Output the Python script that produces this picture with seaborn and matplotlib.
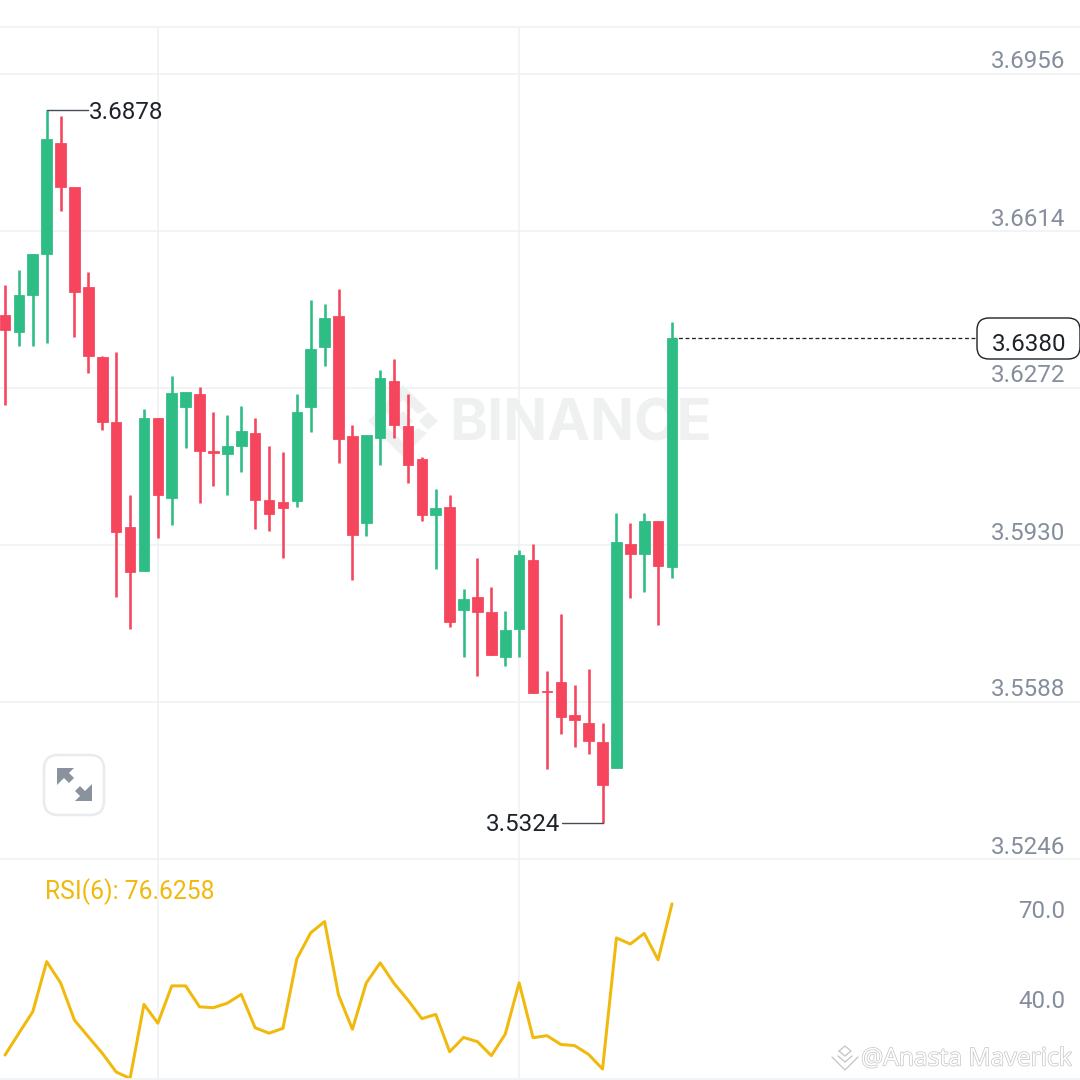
import matplotlib
matplotlib.use("Agg")
import matplotlib.pyplot as plt
import matplotlib.patheffects as pe
from matplotlib.patches import FancyBboxPatch, Polygon
import numpy as np
import seaborn as sns

opens = [3.6431,3.6393,3.6475,3.6564,3.6805,3.6709,3.6491,3.6340,3.6197,3.5970,
         3.5874,3.6207,3.6033,3.6231,3.6259,3.6135,3.6128,3.6146,3.6175,3.6027,
         3.6023,3.6026,3.6231,3.6361,3.6429,3.6167,3.5977,3.6162,3.6287,3.6189,
         3.6117,3.5995,3.6012,3.5788,3.5817,3.5783,3.5686,3.5747,3.5897,3.5613,
         3.5632,3.5560,3.5542,3.5500,3.5445,3.5932,3.5910,3.5982,3.5881]
highs = [3.6496,3.6529,3.6564,3.6878,3.6865,3.6709,3.6524,3.6342,3.6350,3.6040,
         3.6226,3.6207,3.6298,3.6263,3.6275,3.6219,3.6213,3.6233,3.6206,3.6146,
         3.6132,3.6258,3.6464,3.6455,3.6488,3.6191,3.6169,3.6311,3.6335,3.6258,
         3.6122,3.6052,3.6038,3.5835,3.5901,3.5839,3.5786,3.5919,3.5932,3.5655,
         3.5779,3.5625,3.5659,3.5542,3.6000,3.5977,3.6000,3.5982,3.6416]
lows = [3.6235,3.6364,3.6364,3.6371,3.6658,3.6384,3.6305,3.6181,3.5817,3.5746,
        3.5874,3.5946,3.5974,3.6141,3.6021,3.6059,3.6038,3.6090,3.5965,3.5960,
        3.5901,3.6012,3.6177,3.6320,3.6109,3.5854,3.5950,3.6104,3.6162,3.6064,
        3.5982,3.5878,3.5752,3.5685,3.5645,3.5690,3.5666,3.5685,3.5608,3.5443,
        3.5518,3.5491,3.5475,3.5324,3.5445,3.5815,3.5827,3.5756,3.5858]
closes = [3.6398,3.6475,3.6564,3.6814,3.6709,3.6482,3.6342,3.6197,3.5959,3.5872,
          3.6206,3.6040,3.6262,3.6263,3.6135,3.6130,3.6146,3.6178,3.6027,3.5998,
          3.6011,3.6220,3.6358,3.6425,3.6161,3.5951,3.6169,3.6294,3.6191,3.6105,
          3.5996,3.6011,3.5762,3.5812,3.5785,3.5690,3.5745,3.5908,3.5608,3.5609,
          3.5556,3.5549,3.5502,3.5407,3.5937,3.5910,3.5982,3.5885,3.6380]
rsi = [26.8,34.0,41.1,57.6,50.6,38.3,32.8,27.4,21.2,19.1,
       43.5,37.3,49.6,49.6,42.7,42.4,43.9,46.8,35.8,34.0,
       35.6,58.5,67.1,70.8,46.6,35.3,50.6,57.2,50.4,44.9,
       38.8,40.2,27.9,32.6,31.2,26.6,33.7,50.6,32.5,33.2,
       30.3,29.9,27.0,22.2,65.4,63.4,66.9,58.2,76.6258]
price_ticks = [3.6956,3.6614,3.6272,3.5930,3.5588,3.5246]
rsi_ticks = [70.0,40.0]
time_grid = [11,37]
high_label = 3.6878
low_label = 3.5324
last_price = 3.6380
rsi_title = "RSI(6): 76.6258"

RED, GREEN = "#F6465D", "#2EBD85"
GRID, GREY, DARK, GOLD = "#EEF0F3", "#848E9C", "#1E2329", "#F0B90B"
WM = "#EFF1F1"

sns.set_theme(style="white")
plt.rcParams["font.family"] = ["Roboto", "DejaVu Sans"]
fig = plt.figure(figsize=(10.8, 10.8), dpi=100, facecolor="white")
def fx(p): return p / 1080
def fy(p): return 1 - p / 1080
PX = 72 / 100
FS = 17.4

top, mid, bot = 27, 859, 1079
ax = fig.add_axes([0, fy(mid), 1, (mid - top) / 1080], zorder=2)
ax2 = fig.add_axes([0, fy(bot), 1, (bot - mid) / 1080], zorder=2)
step = 13.896
xlim = (-5 / step, (1080 - 5) / step)
k = (price_ticks[0] - price_ticks[-1]) / (859 - 74)
ax.set_xlim(xlim)
ax.set_ylim(price_ticks[-1], price_ticks[0] + (74 - top) * k)
ax2.set_xlim(xlim)
rk = 30 / (91 * 1.0)
ax2.set_ylim(70 - (bot - 924) * rk, 70 + (924 - mid) * rk)

for a in (ax, ax2):
    a.set_xticks(time_grid)
    a.tick_params(length=0, labelbottom=False, labelleft=False)
    a.grid(True, color=GRID, lw=1.5 * PX)
    a.set_axisbelow(True)
    a.patch.set_alpha(0)
    for s in ("left", "right"):
        a.spines[s].set_visible(False)
    for s in ("top", "bottom"):
        a.spines[s].set_color("#F1F2F4")
        a.spines[s].set_linewidth(1.8 * PX)
ax.set_yticks(price_ticks)
ax2.set_yticks([])
ax2.spines["top"].set_visible(False)

# watermark behind the candles
fig.text(fx(580.5), fy(426), "BINANCE", color=WM, family="Inter", weight="bold",
         fontsize=41.5, ha="center", va="center", zorder=0.5)
logo = [
    [(368,421),(377,412),(386,421),(377,430)],
    [(419,421),(428,412),(438,421),(428,430)],
    [(393,421),(403,411),(413,421),(403,431)],
    [(403,385),(427,409),(418,414),(403,400),(388,414),(379,409)],
    [(403,457),(427,433),(418,428),(403,442),(388,428),(379,433)],
]
for pts in logo:
    fig.add_artist(Polygon([(fx(a), fy(b)) for a, b in pts], closed=True, fc=WM, ec="none",
                           transform=fig.transFigure, zorder=0.5))

# candles
xs = np.arange(len(opens))
o, h, l, c = map(np.array, (opens, highs, lows, closes))
cols = [GREEN if cc >= oo else RED for oo, cc in zip(o, c)]
ax.vlines(xs, l, h, colors=cols, lw=2.6 * PX, zorder=3)
ax.bar(xs, np.abs(c - o), bottom=np.minimum(o, c), width=10.6 / step, color=cols,
       edgecolor=cols, lw=0.8 * PX, zorder=4)

# high / low / last markers
ihi = highs.index(high_label)
ilo = lows.index(low_label)
ax.plot([ihi, ihi + 41 / step], [high_label] * 2, color="#474D57", lw=1.4 * PX, zorder=5)
ax.plot([ilo - 41 / step, ilo], [low_label] * 2, color="#474D57", lw=1.4 * PX, zorder=5)
ax.annotate(f"{high_label:.4f}", (ihi + 42 / step, high_label), xytext=(0, -3 * PX), textcoords="offset points",
            color=DARK, fontsize=FS, ha="left", va="center", zorder=6)
ax.annotate(f"{low_label:.4f}", (ilo - 42 / step, low_label), xytext=(0, -1.5 * PX), textcoords="offset points",
            color=DARK, fontsize=FS, ha="right", va="center", zorder=6)
ax.plot([len(closes) - 1, (977 - 5) / step], [last_price] * 2, color=DARK, lw=1.3 * PX,
        ls=(0, (3, 2)), zorder=2)

# price labels
for t in price_ticks:
    ax.annotate(f"{t:.4f}", (1065.5 / 1080, t), xycoords=("axes fraction", "data"),
                xytext=(0, 12 * PX), textcoords="offset points", color=GREY, fontsize=FS,
                ha="right", va="center", zorder=6)

# last-price box
box = FancyBboxPatch((fx(985), fy(351)), fx(87), 25 / 1080,
                     boxstyle=f"round,pad={8/1080},rounding_size={12/1080}",
                     fc="white", ec=DARK, lw=1.4 * PX, transform=fig.transFigure, zorder=7)
fig.add_artist(box)
fig.text(fx(1029), fy(344.5), f"{last_price:.4f}", color=DARK, fontsize=FS, ha="center", va="center", zorder=8)

# expand button
btn = FancyBboxPatch((fx(54), fy(805)), fx(40), 40 / 1080,
                     boxstyle=f"round,pad={10/1080},rounding_size={14/1080}",
                     fc="white", ec="#E9ECEF", lw=2.6 * PX, transform=fig.transFigure, zorder=5)
fig.add_artist(btn)
for pts in ([(57,768),(74,768),(69,773),(74,778),(69,783),(64,778),(57,785)],
            [(92,801),(75,801),(80,796),(75,791),(80,786),(85,791),(92,784)]):
    fig.add_artist(Polygon([(fx(a), fy(b)) for a, b in pts], closed=True, fc="#8A929E", ec="none",
                           transform=fig.transFigure, zorder=6))

# RSI
sns.lineplot(x=xs, y=rsi, ax=ax2, color=GOLD, lw=3 * PX, estimator=None, sort=False, errorbar=None)
ax2.set_xticks(time_grid)
ax2.set_xlim(xlim)
ax2.set_xlabel("")
ax2.set_ylabel("")
fig.text(fx(45), fy(891.5), rsi_title, color=GOLD, fontsize=17.7, ha="left", va="center", zorder=8)
for t in rsi_ticks:
    ax2.annotate(f"{t:.1f}", (1065.5 / 1080, t), xycoords=("axes fraction", "data"),
                 xytext=(0, 13 * PX), textcoords="offset points", color=GREY, fontsize=FS,
                 ha="right", va="center")

# credit
cred = fig.text(fx(1072), fy(1059), "@Anasta Maverick", color="white", fontsize=17.8,
                family="Open Sans", ha="right", va="center", zorder=9)
cred.set_path_effects([pe.Stroke(linewidth=1.0, foreground="#C4C4C4"), pe.Normal()])
for pts in ([(832,1057),(845,1070),(858,1057)],
            [(838,1056),(845,1062),(852,1056)],
            [(839,1051),(845,1056),(851,1051),(845,1046),(839,1051)]):
    fig.add_artist(plt.Line2D([fx(a) for a, b in pts], [fy(b) for a, b in pts], color="#C8C8C8",
                              lw=1.0, transform=fig.transFigure, zorder=9))

fig.savefig("out.png", dpi=100, facecolor="white")
